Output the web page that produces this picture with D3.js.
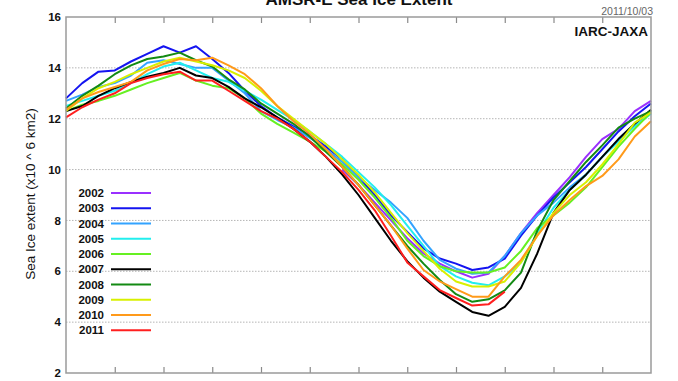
<!DOCTYPE html>
<html><head><meta charset="utf-8">
<script src="https://cdn.jsdelivr.net/npm/d3@7"></script>
<style>
html,body{margin:0;padding:0;background:#fff;}
svg{display:block;font-family:"Liberation Sans",Arial,sans-serif;}
</style></head>
<body><svg id="c" width="678" height="381"></svg>
<script>
// Sampling: one value every 1/3 month, starting Jan 1 (index i -> month i/3)
const years = ["2002","2003","2004","2005","2006","2007","2008","2009","2010","2011"];
const colors = ["#9a30ff","#1414f0","#33a3ff","#22eeee","#66f022","#000000","#138a13","#d8f000","#ff9a1a","#ff1f1f"];
const yTicks = [2,4,6,8,10,12,14,16];
const gridTicks = [4,6,8,10,12,14];
const monthTicks = [1,2,3,4,5,6,7,8,9,10,11];

const v2002 = [null,null,null,null,null,null,null,null,null,null,null,null,null,null,null,null,null,
  10.0,9.4,8.7,8.0,7.3,6.7,6.3,6.0,5.75,5.9,6.6,7.5,8.3,9.0,9.7,10.5,11.2,11.6,12.3,12.7];
const v2003 = [12.8,13.4,13.85,13.9,14.25,14.55,14.85,14.6,14.85,14.35,13.8,13.1,12.5,12.05,11.7,11.35,10.9,10.4,9.7,9.0,8.2,7.55,6.9,6.5,6.3,6.05,6.15,6.5,7.4,8.2,8.9,9.5,10.1,10.8,11.5,12.1,12.6];
const v2004 = [12.7,12.95,13.25,13.4,13.7,14.2,14.3,14.15,14.0,14.0,13.5,13.0,12.3,11.95,11.65,11.25,10.8,10.3,9.7,9.2,8.7,8.1,7.2,6.45,6.1,5.9,5.95,6.6,7.5,8.2,8.7,9.3,9.8,10.5,11.2,11.8,12.3];
const v2005 = [12.5,12.7,12.9,13.1,13.4,13.75,14.05,14.2,13.9,13.6,13.45,13.1,12.75,12.35,11.95,11.5,11.0,10.5,9.9,9.3,8.6,7.8,7.0,6.2,5.8,5.55,5.45,5.8,6.35,7.5,8.5,9.2,9.8,10.5,11.1,11.7,12.2];
const v2006 = [12.3,12.55,12.7,12.9,13.15,13.4,13.6,13.8,13.5,13.3,13.2,12.8,12.2,11.8,11.45,11.1,10.7,10.2,9.6,8.9,8.1,7.2,6.6,6.2,6.0,5.95,5.95,6.15,6.8,7.7,8.2,8.7,9.3,10.1,10.9,11.6,12.25];
const v2007 = [12.3,12.5,12.9,13.2,13.45,13.65,13.8,14.0,13.7,13.6,13.25,12.8,12.45,12.05,11.6,11.1,10.5,9.8,9.0,8.1,7.2,6.4,5.75,5.2,4.8,4.4,4.25,4.6,5.35,6.7,8.3,9.2,9.8,10.5,11.2,11.8,12.35];
const v2008 = [12.4,12.9,13.3,13.75,14.1,14.35,14.45,14.6,14.3,14.05,13.55,13.15,12.6,12.2,11.8,11.3,10.7,10.1,9.4,8.6,7.8,7.0,6.3,5.66,5.1,4.8,4.9,5.25,5.95,7.6,8.8,9.55,10.3,10.95,11.65,12.0,12.3];
const v2009 = [12.3,12.8,13.2,13.45,13.75,14.0,14.25,14.4,14.25,14.1,13.9,13.6,13.1,12.5,12.0,11.5,11.0,10.4,9.8,9.1,8.3,7.5,6.8,6.1,5.6,5.4,5.4,5.6,6.35,7.4,8.3,9.0,9.5,10.2,11.0,11.85,12.25];
const v2010 = [12.35,12.8,13.05,13.25,13.45,13.9,14.15,14.35,14.3,14.4,14.1,13.75,13.2,12.5,11.9,11.4,10.8,10.1,9.4,8.6,7.8,6.9,6.05,5.6,5.3,5.0,5.0,5.8,6.45,7.4,8.2,8.8,9.35,9.75,10.4,11.3,11.9];
const v2011 = [12.05,12.45,12.75,13.0,13.4,13.6,13.75,13.85,13.5,13.5,13.1,12.7,12.3,12.0,11.6,11.1,10.5,9.9,9.2,8.4,7.4,6.35,5.8,5.26,4.95,4.65,4.7,5.2];
const seriesValues = [v2002,v2003,v2004,v2005,v2006,v2007,v2008,v2009,v2010,v2011];

const svg = d3.select("#c");
const L = 66, R = 651, T = 17, B = 373;
const x = d3.scaleLinear().domain([0,12]).range([L,R]);
const y = d3.scaleLinear().domain([2,16]).range([B,T]);

// gridlines
svg.append("g").selectAll("line").data(gridTicks).join("line")
  .attr("x1",L).attr("x2",R).attr("y1",d=>y(d)).attr("y2",d=>y(d))
  .attr("stroke","#b5b5b5").attr("stroke-width",1).attr("stroke-dasharray","1.5,1.5");

// month ticks (top and bottom)
const xb = svg.append("g").attr("transform",`translate(0,${B})`)
  .call(d3.axisBottom(x).tickValues(monthTicks).tickSize(-6).tickFormat(""));
const xt = svg.append("g").attr("transform",`translate(0,${T})`)
  .call(d3.axisTop(x).tickValues(monthTicks).tickSize(-6).tickFormat(""));
[xb,xt].forEach(g=>{g.select(".domain").remove(); g.selectAll("line").attr("stroke","#8a8a8a").attr("stroke-width",1.2);});

// y axis labels
const ya = svg.append("g").attr("transform",`translate(${L},0)`)
  .call(d3.axisLeft(y).tickValues(yTicks).tickSize(0).tickPadding(5).tickFormat(d3.format("d")));
ya.select(".domain").remove();
ya.selectAll("text").attr("font-size",11.5).attr("font-weight","bold").attr("fill","#111")
  .attr("font-family","'Liberation Sans',Arial,sans-serif");

// lines
const line = d3.line().defined(d=>d!=null).x((d,i)=>x(i/3)).y(d=>y(d));
svg.append("g").selectAll("path").data(seriesValues).join("path")
  .attr("d",d=>line(d)).attr("fill","none")
  .attr("stroke",(d,i)=>colors[i]).attr("stroke-width",2).attr("stroke-linejoin","round");

// frame
svg.append("rect").attr("x",L).attr("y",T).attr("width",R-L).attr("height",B-T)
  .attr("fill","none").attr("stroke","#9a9a9a").attr("stroke-width",1.5);

// legend
const lg = svg.append("g").selectAll("g").data(years).join("g")
  .attr("transform",(d,i)=>`translate(0,${193+i*15.25})`);
lg.append("text").attr("x",104).attr("y",4).attr("text-anchor","end")
  .attr("font-size",11.5).attr("font-weight","bold").attr("fill","#111").text(d=>d);
lg.append("line").attr("x1",111).attr("x2",151).attr("y1",0).attr("y2",0)
  .attr("stroke",(d,i)=>colors[i]).attr("stroke-width",2);

// titles
svg.append("text").attr("x",359).attr("y",5).attr("text-anchor","middle")
  .attr("font-size",17).attr("font-weight","bold").attr("fill","#111").text("AMSR-E Sea Ice Extent");
svg.append("text").attr("x",653).attr("y",15).attr("text-anchor","end")
  .attr("font-size",10.5).attr("fill","#666").text("2011/10/03");
svg.append("text").attr("x",648).attr("y",36).attr("text-anchor","end")
  .attr("font-size",13.5).attr("font-weight","bold").attr("fill","#111").text("IARC-JAXA");
svg.append("text").attr("transform","translate(35,194) rotate(-90)").attr("text-anchor","middle")
  .attr("font-size",13.5).attr("fill","#111").text("Sea Ice extent (x10 ^ 6 km2)");
</script></body></html>
